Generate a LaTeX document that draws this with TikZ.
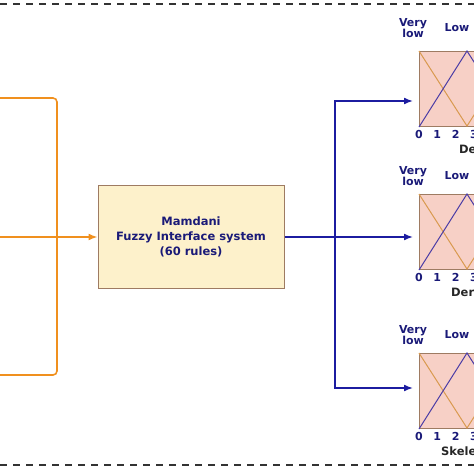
\documentclass[tikz,border=0pt]{standalone}
\usepackage{fontspec}
\setmainfont{DejaVu Sans}
\usetikzlibrary{calc, positioning, arrows.meta}

\definecolor{inorange}{HTML}{F0901E}
\definecolor{outblue}{HTML}{1C1CA0}
\definecolor{boxfill}{HTML}{FDF1CB}
\definecolor{boxline}{HTML}{9E7B62}
\definecolor{panelfill}{HTML}{F7D0C6}
\definecolor{mfblue}{HTML}{4A3CA6}
\definecolor{mforange}{HTML}{D99A50}
\definecolor{navytext}{HTML}{1A1A78}

\tikzset{
  fis/.style={draw=boxline, fill=boxfill, line width=1pt, minimum width=186pt, minimum height=103pt, align=center, font=\bfseries\fontsize{11.5}{15}\selectfont, text=navytext},
  panel/.style={draw=boxline, fill=panelfill, line width=1pt, minimum width=120pt, minimum height=75pt, anchor=north west, inner sep=0pt},
  mflabel/.style={font=\bfseries\fontsize{11}{13}\selectfont, text=navytext, align=center},
  ticklabel/.style={font=\bfseries\fontsize{11}{13}\selectfont, text=navytext, inner sep=0pt},
  varname/.style={font=\bfseries\fontsize{11.5}{13}\selectfont, text=black!85, anchor=west, inner sep=0pt},
  sep/.style={dash pattern=on 7pt off 6pt, line width=1.4pt, black!80},
}

\begin{document}
\begin{tikzpicture}[x=1pt, y=-1pt, >={Latex[length=9pt,width=7pt]}]
\useasboundingbox (0,0) rectangle (474,474);
\clip (0,0) rectangle (474,474);

% separators
\draw[sep] (0,4) -- (474,4);
\draw[sep] (0,465) -- (474,465);

% inference system
\node[fis] (sys) at (191,237) {Mamdani\\Fuzzy Interface system\\(60 rules)};

% inputs
\coordinate (in) at (0,237);
\draw[inorange, line width=1.6pt, rounded corners=4pt] (0,98) -- (57,98) -- (57,375) -- (0,375);
\draw[->, inorange, line width=1.6pt] (in) -- (sys.west);

% outputs
\coordinate (split) at (335,237);
\foreach \i/\ytop/\arr/\lab/\name/\namex in {1/51/101/28/Dental/459, 2/194/237/176/Dermal/451, 3/353/388/335/Skeletal/441} {
  \node[panel] (p\i) at (419,\ytop) {};
  \coordinate (a\i) at (413,\arr);
  \draw[mforange, line width=1pt] (p\i.north west) -- (467,\ytop+75) -- (515,\ytop);
  \draw[mfblue, line width=1pt] (p\i.south west) -- (467,\ytop) -- (515,\ytop+75);
  \node[mflabel] (vl\i) at (413,\lab) {Very\\[-2pt]low};
  \node[mflabel] (lo\i) at (457,\lab) {Low};
  \foreach \k in {0,...,3}
    \node[ticklabel] (t\i\k) at ({419+18.3*\k},\ytop+83) {\k};
  \node[varname] (n\i) at (\namex,\ytop+98) {\name};
}
\draw[->, outblue, line width=1.6pt] (sys.east) -- (a2);
\draw[->, outblue, line width=1.6pt] (split) |- (a1);
\draw[->, outblue, line width=1.6pt] (split) |- (a3);
\end{tikzpicture}
\end{document}
